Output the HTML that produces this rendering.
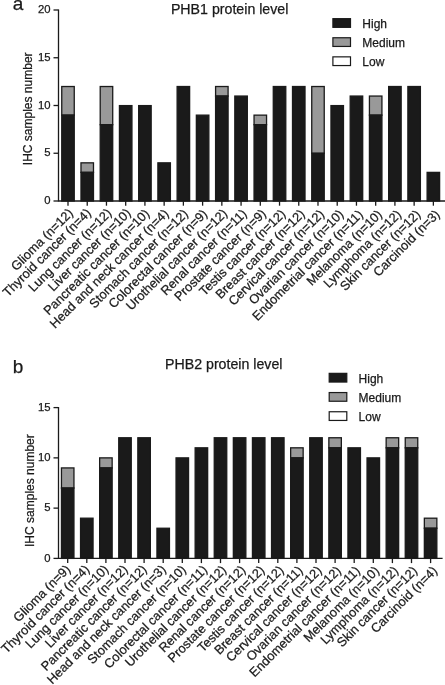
<!DOCTYPE html>
<html><head><meta charset="utf-8"><title>PHB protein level</title>
<style>
html,body{margin:0;padding:0;background:#fff;}
svg{display:block;font-family:"Liberation Sans",sans-serif;fill:#1a1a1a;}
text{stroke:#1a1a1a;stroke-width:0.25px;}
</style></head>
<body>
<svg width="445" height="685" viewBox="0 0 445 685">
<rect x="0" y="0" width="445" height="685" fill="#ffffff"/>
<rect x="61.75" y="86.52" width="12.50" height="28.62" fill="#999999" stroke="#1a1a1a" stroke-width="1.3"/>
<rect x="61.75" y="115.14" width="12.50" height="85.86" fill="#1a1a1a" stroke="#1a1a1a" stroke-width="1.3"/>
<rect x="80.98" y="162.84" width="12.50" height="9.54" fill="#999999" stroke="#1a1a1a" stroke-width="1.3"/>
<rect x="80.98" y="172.38" width="12.50" height="28.62" fill="#1a1a1a" stroke="#1a1a1a" stroke-width="1.3"/>
<rect x="100.21" y="86.52" width="12.50" height="38.16" fill="#999999" stroke="#1a1a1a" stroke-width="1.3"/>
<rect x="100.21" y="124.68" width="12.50" height="76.32" fill="#1a1a1a" stroke="#1a1a1a" stroke-width="1.3"/>
<rect x="119.44" y="105.60" width="12.50" height="95.40" fill="#1a1a1a" stroke="#1a1a1a" stroke-width="1.3"/>
<rect x="138.67" y="105.60" width="12.50" height="95.40" fill="#1a1a1a" stroke="#1a1a1a" stroke-width="1.3"/>
<rect x="157.90" y="162.84" width="12.50" height="38.16" fill="#1a1a1a" stroke="#1a1a1a" stroke-width="1.3"/>
<rect x="177.13" y="86.52" width="12.50" height="114.48" fill="#1a1a1a" stroke="#1a1a1a" stroke-width="1.3"/>
<rect x="196.36" y="115.14" width="12.50" height="85.86" fill="#1a1a1a" stroke="#1a1a1a" stroke-width="1.3"/>
<rect x="215.59" y="86.52" width="12.50" height="9.54" fill="#999999" stroke="#1a1a1a" stroke-width="1.3"/>
<rect x="215.59" y="96.06" width="12.50" height="104.94" fill="#1a1a1a" stroke="#1a1a1a" stroke-width="1.3"/>
<rect x="234.82" y="96.06" width="12.50" height="104.94" fill="#1a1a1a" stroke="#1a1a1a" stroke-width="1.3"/>
<rect x="254.05" y="115.14" width="12.50" height="9.54" fill="#999999" stroke="#1a1a1a" stroke-width="1.3"/>
<rect x="254.05" y="124.68" width="12.50" height="76.32" fill="#1a1a1a" stroke="#1a1a1a" stroke-width="1.3"/>
<rect x="273.28" y="86.52" width="12.50" height="114.48" fill="#1a1a1a" stroke="#1a1a1a" stroke-width="1.3"/>
<rect x="292.51" y="86.52" width="12.50" height="114.48" fill="#1a1a1a" stroke="#1a1a1a" stroke-width="1.3"/>
<rect x="311.74" y="86.52" width="12.50" height="66.78" fill="#999999" stroke="#1a1a1a" stroke-width="1.3"/>
<rect x="311.74" y="153.30" width="12.50" height="47.70" fill="#1a1a1a" stroke="#1a1a1a" stroke-width="1.3"/>
<rect x="330.97" y="105.60" width="12.50" height="95.40" fill="#1a1a1a" stroke="#1a1a1a" stroke-width="1.3"/>
<rect x="350.20" y="96.06" width="12.50" height="104.94" fill="#1a1a1a" stroke="#1a1a1a" stroke-width="1.3"/>
<rect x="369.43" y="96.06" width="12.50" height="19.08" fill="#999999" stroke="#1a1a1a" stroke-width="1.3"/>
<rect x="369.43" y="115.14" width="12.50" height="85.86" fill="#1a1a1a" stroke="#1a1a1a" stroke-width="1.3"/>
<rect x="388.66" y="86.52" width="12.50" height="114.48" fill="#1a1a1a" stroke="#1a1a1a" stroke-width="1.3"/>
<rect x="407.89" y="86.52" width="12.50" height="114.48" fill="#1a1a1a" stroke="#1a1a1a" stroke-width="1.3"/>
<rect x="427.12" y="172.38" width="12.50" height="28.62" fill="#1a1a1a" stroke="#1a1a1a" stroke-width="1.3"/>
<path d="M58.5 9.50V201.00H445" fill="none" stroke="#1a1a1a" stroke-width="1.3"/>
<path d="M53.5 201.00H58.5" stroke="#1a1a1a" stroke-width="1.3"/>
<text x="50.6" y="204.20" text-anchor="end" font-size="11.3">0</text>
<path d="M53.5 153.25H58.5" stroke="#1a1a1a" stroke-width="1.3"/>
<text x="50.6" y="156.45" text-anchor="end" font-size="11.3">5</text>
<path d="M53.5 105.50H58.5" stroke="#1a1a1a" stroke-width="1.3"/>
<text x="50.6" y="108.70" text-anchor="end" font-size="11.3">10</text>
<path d="M53.5 57.75H58.5" stroke="#1a1a1a" stroke-width="1.3"/>
<text x="50.6" y="60.95" text-anchor="end" font-size="11.3">15</text>
<path d="M53.5 10.00H58.5" stroke="#1a1a1a" stroke-width="1.3"/>
<text x="50.6" y="13.20" text-anchor="end" font-size="11.3">20</text>
<path d="M68.00 201.00V205.70" stroke="#1a1a1a" stroke-width="1.3"/>
<text transform="translate(73.85 213.85) rotate(-45)" text-anchor="end" font-size="12.8">Glioma (n=12)</text>
<path d="M87.23 201.00V205.70" stroke="#1a1a1a" stroke-width="1.3"/>
<text transform="translate(91.68 213.85) rotate(-45)" text-anchor="end" font-size="12.8">Thyroid cancer (n=4)</text>
<path d="M106.46 201.00V205.70" stroke="#1a1a1a" stroke-width="1.3"/>
<text transform="translate(112.31 213.85) rotate(-45)" text-anchor="end" font-size="12.8">Lung cancer (n=12)</text>
<path d="M125.69 201.00V205.70" stroke="#1a1a1a" stroke-width="1.3"/>
<text transform="translate(131.54 213.85) rotate(-45)" text-anchor="end" font-size="12.8">Liver cancer (n=10)</text>
<path d="M144.92 201.00V205.70" stroke="#1a1a1a" stroke-width="1.3"/>
<text transform="translate(150.17 214.45) rotate(-45)" text-anchor="end" font-size="12.8">Pancreatic cancer (n=10)</text>
<path d="M164.15 201.00V205.70" stroke="#1a1a1a" stroke-width="1.3"/>
<text transform="translate(169.40 214.45) rotate(-45)" text-anchor="end" font-size="12.8">Head and neck cancer (n=4)</text>
<path d="M183.38 201.00V205.70" stroke="#1a1a1a" stroke-width="1.3"/>
<text transform="translate(188.76 214.58) rotate(-45)" text-anchor="end" font-size="12.8">Stomach cancer (n=12)</text>
<path d="M202.61 201.00V205.70" stroke="#1a1a1a" stroke-width="1.3"/>
<text transform="translate(208.13 214.72) rotate(-45)" text-anchor="end" font-size="12.8">Colorectal cancer (n=9)</text>
<path d="M221.84 201.00V205.70" stroke="#1a1a1a" stroke-width="1.3"/>
<text transform="translate(228.09 214.25) rotate(-45)" text-anchor="end" font-size="12.8">Urothelial cancer (n=12)</text>
<path d="M241.07 201.00V205.70" stroke="#1a1a1a" stroke-width="1.3"/>
<text transform="translate(247.46 214.39) rotate(-45)" text-anchor="end" font-size="12.8">Renal cancer (n=11)</text>
<path d="M260.30 201.00V205.70" stroke="#1a1a1a" stroke-width="1.3"/>
<text transform="translate(266.82 214.52) rotate(-45)" text-anchor="end" font-size="12.8">Prostate cancer (n=9)</text>
<path d="M279.53 201.00V205.70" stroke="#1a1a1a" stroke-width="1.3"/>
<text transform="translate(286.19 214.66) rotate(-45)" text-anchor="end" font-size="12.8">Testis cancer (n=12)</text>
<path d="M298.76 201.00V205.70" stroke="#1a1a1a" stroke-width="1.3"/>
<text transform="translate(305.56 214.79) rotate(-45)" text-anchor="end" font-size="12.8">Breast cancer (n=12)</text>
<path d="M317.99 201.00V205.70" stroke="#1a1a1a" stroke-width="1.3"/>
<text transform="translate(324.92 214.93) rotate(-45)" text-anchor="end" font-size="12.8">Cervical cancer (n=12)</text>
<path d="M337.22 201.00V205.70" stroke="#1a1a1a" stroke-width="1.3"/>
<text transform="translate(344.29 215.06) rotate(-45)" text-anchor="end" font-size="12.8">Ovarian cancer (n=10)</text>
<path d="M356.45 201.00V205.70" stroke="#1a1a1a" stroke-width="1.3"/>
<text transform="translate(363.65 215.20) rotate(-45)" text-anchor="end" font-size="12.8">Endometrial cancer (n=11)</text>
<path d="M375.68 201.00V205.70" stroke="#1a1a1a" stroke-width="1.3"/>
<text transform="translate(382.88 215.20) rotate(-45)" text-anchor="end" font-size="12.8">Melanoma (n=10)</text>
<path d="M394.91 201.00V205.70" stroke="#1a1a1a" stroke-width="1.3"/>
<text transform="translate(402.11 215.20) rotate(-45)" text-anchor="end" font-size="12.8">Lymphoma (n=12)</text>
<path d="M414.14 201.00V205.70" stroke="#1a1a1a" stroke-width="1.3"/>
<text transform="translate(421.34 215.20) rotate(-45)" text-anchor="end" font-size="12.8">Skin cancer (n=12)</text>
<path d="M433.37 201.00V205.70" stroke="#1a1a1a" stroke-width="1.3"/>
<text transform="translate(440.57 215.20) rotate(-45)" text-anchor="end" font-size="12.8">Carcinoid (n=3)</text>
<text x="170.9" y="14.2" font-size="14.2">PHB1 protein level</text>
<text x="12.8" y="10.0" font-size="19">a</text>
<text transform="translate(32.4 108.8) rotate(-90)" text-anchor="middle" font-size="12">IHC samples number</text>
<rect x="332.90" y="18.65" width="17.6" height="8.7" fill="#1a1a1a" stroke="#1a1a1a" stroke-width="1.2"/>
<text x="362.30" y="28.20" font-size="12">High</text>
<rect x="332.90" y="37.75" width="17.6" height="8.7" fill="#999999" stroke="#1a1a1a" stroke-width="1.2"/>
<text x="362.30" y="47.30" font-size="12">Medium</text>
<rect x="332.90" y="56.85" width="17.6" height="8.7" fill="#ffffff" stroke="#1a1a1a" stroke-width="1.2"/>
<text x="362.30" y="66.40" font-size="12">Low</text>
<rect x="61.45" y="467.92" width="12.50" height="20.11" fill="#999999" stroke="#1a1a1a" stroke-width="1.3"/>
<rect x="61.45" y="488.03" width="12.50" height="70.37" fill="#1a1a1a" stroke="#1a1a1a" stroke-width="1.3"/>
<rect x="80.55" y="518.19" width="12.50" height="40.21" fill="#1a1a1a" stroke="#1a1a1a" stroke-width="1.3"/>
<rect x="99.65" y="457.87" width="12.50" height="10.05" fill="#999999" stroke="#1a1a1a" stroke-width="1.3"/>
<rect x="99.65" y="467.92" width="12.50" height="90.48" fill="#1a1a1a" stroke="#1a1a1a" stroke-width="1.3"/>
<rect x="118.75" y="437.76" width="12.50" height="120.64" fill="#1a1a1a" stroke="#1a1a1a" stroke-width="1.3"/>
<rect x="137.85" y="437.76" width="12.50" height="120.64" fill="#1a1a1a" stroke="#1a1a1a" stroke-width="1.3"/>
<rect x="156.95" y="528.24" width="12.50" height="30.16" fill="#1a1a1a" stroke="#1a1a1a" stroke-width="1.3"/>
<rect x="176.05" y="457.87" width="12.50" height="100.53" fill="#1a1a1a" stroke="#1a1a1a" stroke-width="1.3"/>
<rect x="195.15" y="447.82" width="12.50" height="110.58" fill="#1a1a1a" stroke="#1a1a1a" stroke-width="1.3"/>
<rect x="214.25" y="437.76" width="12.50" height="120.64" fill="#1a1a1a" stroke="#1a1a1a" stroke-width="1.3"/>
<rect x="233.35" y="437.76" width="12.50" height="120.64" fill="#1a1a1a" stroke="#1a1a1a" stroke-width="1.3"/>
<rect x="252.45" y="437.76" width="12.50" height="120.64" fill="#1a1a1a" stroke="#1a1a1a" stroke-width="1.3"/>
<rect x="271.55" y="437.76" width="12.50" height="120.64" fill="#1a1a1a" stroke="#1a1a1a" stroke-width="1.3"/>
<rect x="290.65" y="447.82" width="12.50" height="10.05" fill="#999999" stroke="#1a1a1a" stroke-width="1.3"/>
<rect x="290.65" y="457.87" width="12.50" height="100.53" fill="#1a1a1a" stroke="#1a1a1a" stroke-width="1.3"/>
<rect x="309.75" y="437.76" width="12.50" height="120.64" fill="#1a1a1a" stroke="#1a1a1a" stroke-width="1.3"/>
<rect x="328.85" y="437.76" width="12.50" height="10.05" fill="#999999" stroke="#1a1a1a" stroke-width="1.3"/>
<rect x="328.85" y="447.82" width="12.50" height="110.58" fill="#1a1a1a" stroke="#1a1a1a" stroke-width="1.3"/>
<rect x="347.95" y="447.82" width="12.50" height="110.58" fill="#1a1a1a" stroke="#1a1a1a" stroke-width="1.3"/>
<rect x="367.05" y="457.87" width="12.50" height="100.53" fill="#1a1a1a" stroke="#1a1a1a" stroke-width="1.3"/>
<rect x="386.15" y="437.76" width="12.50" height="10.05" fill="#999999" stroke="#1a1a1a" stroke-width="1.3"/>
<rect x="386.15" y="447.82" width="12.50" height="110.58" fill="#1a1a1a" stroke="#1a1a1a" stroke-width="1.3"/>
<rect x="405.25" y="437.76" width="12.50" height="10.05" fill="#999999" stroke="#1a1a1a" stroke-width="1.3"/>
<rect x="405.25" y="447.82" width="12.50" height="110.58" fill="#1a1a1a" stroke="#1a1a1a" stroke-width="1.3"/>
<rect x="424.35" y="518.19" width="12.50" height="10.05" fill="#999999" stroke="#1a1a1a" stroke-width="1.3"/>
<rect x="424.35" y="528.24" width="12.50" height="30.16" fill="#1a1a1a" stroke="#1a1a1a" stroke-width="1.3"/>
<path d="M58.5 407.10V558.40H442.6" fill="none" stroke="#1a1a1a" stroke-width="1.3"/>
<path d="M53.5 558.40H58.5" stroke="#1a1a1a" stroke-width="1.3"/>
<text x="50.6" y="561.60" text-anchor="end" font-size="11.3">0</text>
<path d="M53.5 508.13H58.5" stroke="#1a1a1a" stroke-width="1.3"/>
<text x="50.6" y="511.33" text-anchor="end" font-size="11.3">5</text>
<path d="M53.5 457.87H58.5" stroke="#1a1a1a" stroke-width="1.3"/>
<text x="50.6" y="461.07" text-anchor="end" font-size="11.3">10</text>
<path d="M53.5 407.60H58.5" stroke="#1a1a1a" stroke-width="1.3"/>
<text x="50.6" y="410.80" text-anchor="end" font-size="11.3">15</text>
<path d="M67.70 558.40V563.10" stroke="#1a1a1a" stroke-width="1.3"/>
<text transform="translate(71.15 570.25) rotate(-45)" text-anchor="end" font-size="12.8">Glioma (n=9)</text>
<path d="M86.80 558.40V563.10" stroke="#1a1a1a" stroke-width="1.3"/>
<text transform="translate(90.25 570.25) rotate(-45)" text-anchor="end" font-size="12.8">Thyroid cancer (n=4)</text>
<path d="M105.90 558.40V563.10" stroke="#1a1a1a" stroke-width="1.3"/>
<text transform="translate(109.35 570.25) rotate(-45)" text-anchor="end" font-size="12.8">Lung cancer (n=10)</text>
<path d="M125.00 558.40V563.10" stroke="#1a1a1a" stroke-width="1.3"/>
<text transform="translate(128.45 570.25) rotate(-45)" text-anchor="end" font-size="12.8">Liver cancer (n=12)</text>
<path d="M144.10 558.40V563.10" stroke="#1a1a1a" stroke-width="1.3"/>
<text transform="translate(147.55 570.25) rotate(-45)" text-anchor="end" font-size="12.8">Pancreatic cancer (n=12)</text>
<path d="M163.20 558.40V563.10" stroke="#1a1a1a" stroke-width="1.3"/>
<text transform="translate(166.65 570.25) rotate(-45)" text-anchor="end" font-size="12.8">Head and neck cancer (n=3)</text>
<path d="M182.30 558.40V563.10" stroke="#1a1a1a" stroke-width="1.3"/>
<text transform="translate(186.89 570.38) rotate(-45)" text-anchor="end" font-size="12.8">Stomach cancer (n=10)</text>
<path d="M201.40 558.40V563.10" stroke="#1a1a1a" stroke-width="1.3"/>
<text transform="translate(208.00 570.52) rotate(-45)" text-anchor="end" font-size="12.8">Colorectal cancer (n=11)</text>
<path d="M220.50 558.40V563.10" stroke="#1a1a1a" stroke-width="1.3"/>
<text transform="translate(227.10 570.65) rotate(-45)" text-anchor="end" font-size="12.8">Urothelial cancer (n=12)</text>
<path d="M239.60 558.40V563.10" stroke="#1a1a1a" stroke-width="1.3"/>
<text transform="translate(246.20 570.79) rotate(-45)" text-anchor="end" font-size="12.8">Renal cancer (n=12)</text>
<path d="M258.70 558.40V563.10" stroke="#1a1a1a" stroke-width="1.3"/>
<text transform="translate(265.30 570.93) rotate(-45)" text-anchor="end" font-size="12.8">Prostate cancer (n=12)</text>
<path d="M277.80 558.40V563.10" stroke="#1a1a1a" stroke-width="1.3"/>
<text transform="translate(284.40 571.06) rotate(-45)" text-anchor="end" font-size="12.8">Testis cancer (n=12)</text>
<path d="M296.90 558.40V563.10" stroke="#1a1a1a" stroke-width="1.3"/>
<text transform="translate(303.50 571.20) rotate(-45)" text-anchor="end" font-size="12.8">Breast cancer (n=11)</text>
<path d="M316.00 558.40V563.10" stroke="#1a1a1a" stroke-width="1.3"/>
<text transform="translate(322.60 571.33) rotate(-45)" text-anchor="end" font-size="12.8">Cervical cancer (n=12)</text>
<path d="M335.10 558.40V563.10" stroke="#1a1a1a" stroke-width="1.3"/>
<text transform="translate(341.70 571.47) rotate(-45)" text-anchor="end" font-size="12.8">Ovarian cancer (n=12)</text>
<path d="M354.20 558.40V563.10" stroke="#1a1a1a" stroke-width="1.3"/>
<text transform="translate(360.80 571.60) rotate(-45)" text-anchor="end" font-size="12.8">Endometrial cancer (n=11)</text>
<path d="M373.30 558.40V563.10" stroke="#1a1a1a" stroke-width="1.3"/>
<text transform="translate(379.90 571.60) rotate(-45)" text-anchor="end" font-size="12.8">Melanoma (n=10)</text>
<path d="M392.40 558.40V563.10" stroke="#1a1a1a" stroke-width="1.3"/>
<text transform="translate(399.00 571.60) rotate(-45)" text-anchor="end" font-size="12.8">Lymphoma (n=12)</text>
<path d="M411.50 558.40V563.10" stroke="#1a1a1a" stroke-width="1.3"/>
<text transform="translate(418.10 571.60) rotate(-45)" text-anchor="end" font-size="12.8">Skin cancer (n=12)</text>
<path d="M430.60 558.40V563.10" stroke="#1a1a1a" stroke-width="1.3"/>
<text transform="translate(438.00 571.60) rotate(-45)" text-anchor="end" font-size="12.8">Carcinoid (n=4)</text>
<text x="165" y="369" font-size="14.2">PHB2 protein level</text>
<text x="12.8" y="372.5" font-size="19">b</text>
<text transform="translate(33.9 490.6) rotate(-90)" text-anchor="middle" font-size="12">IHC samples number</text>
<rect x="329.20" y="373.35" width="17.6" height="8.7" fill="#1a1a1a" stroke="#1a1a1a" stroke-width="1.2"/>
<text x="358.60" y="382.90" font-size="12">High</text>
<rect x="329.20" y="392.55" width="17.6" height="8.7" fill="#999999" stroke="#1a1a1a" stroke-width="1.2"/>
<text x="358.60" y="402.10" font-size="12">Medium</text>
<rect x="329.20" y="411.75" width="17.6" height="8.7" fill="#ffffff" stroke="#1a1a1a" stroke-width="1.2"/>
<text x="358.60" y="421.30" font-size="12">Low</text>
</svg>
</body></html>
